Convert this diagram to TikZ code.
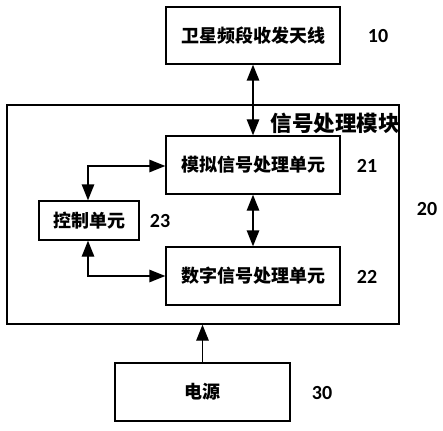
\documentclass[tikz,border=0pt]{standalone}
\usepackage{fontspec}
\newfontfamily\cjk{Noto Sans CJK SC}
\setmainfont{Carlito}
\usetikzlibrary{arrows.meta}
\begin{document}
\begin{tikzpicture}[x=1pt,y=-1pt,
  box/.style={draw,line width=1.4pt,inner sep=0pt},
  txt/.style={font=\cjk\bfseries\fontsize{18}{20}\selectfont},
  num/.style={font=\bfseries\fontsize{20}{22}\selectfont},
  conn/.style={line width=1.4pt,{Triangle[length=16pt,width=12.5pt]}-{Triangle[length=16pt,width=12.5pt]}},
  oneway/.style={line width=1.4pt,-{Triangle[length=16pt,width=12.5pt]}}]
\useasboundingbox (0,0) rectangle (443,430);
% boxes
\node[box,minimum width=174pt,minimum height=57pt] (ant) at (253,35.5) {};
\node[txt] at (ant.center) {卫星频段收发天线};
\node[box,minimum width=392pt,minimum height=219pt] (mod) at (203,214.5) {};
\node[box,minimum width=174pt,minimum height=58pt] (asp) at (253,165) {};
\node[txt] at (asp.center) {模拟信号处理单元};
\node[box,minimum width=100pt,minimum height=39pt] (ctl) at (89,220.5) {};
\node[txt] at (ctl.center) {控制单元};
\node[box,minimum width=174pt,minimum height=58pt] (dsp) at (253,276) {};
\node[txt] at (dsp.center) {数字信号处理单元};
\node[box,minimum width=175pt,minimum height=58pt] (pwr) at (202.5,392) {};
\node[txt] at (pwr.center) {电源};
% titles
\node[font=\cjk\bfseries\fontsize{21.5}{23}\selectfont] (title) at (335,123) {信号处理模块};
\node[num] (n10) at (378,36) {10};
\node[num] (n21) at (367,166) {21};
\node[num] (n22) at (367,277) {22};
\node[num] (n23) at (160,221) {23};
\node[num] (n20) at (427,209) {20};
\node[num] (n30) at (322,393) {30};
% connectors
\draw[conn] (ant.south) -- (asp.north);
\draw[conn] (asp.south) -- (dsp.north);
\coordinate (c1) at (88,166);
\coordinate (c2) at (88,276);
\draw[conn] (ctl.north -| c1) -- (c1) -- (asp.west |- c1);
\draw[conn] (ctl.south -| c2) -- (c2) -- (dsp.west |- c2);
\draw[oneway] (pwr.north) -- (pwr.north |- mod.south);
\end{tikzpicture}
\end{document}
